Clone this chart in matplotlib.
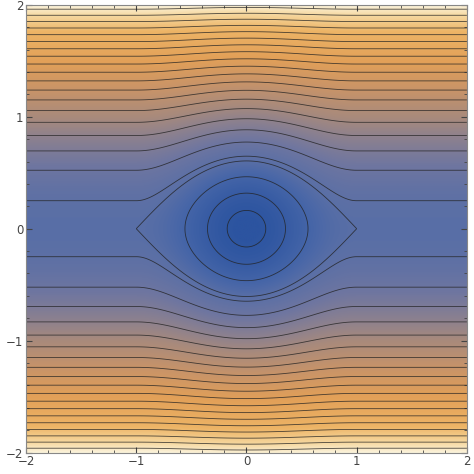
import numpy as np
import matplotlib
matplotlib.use("Agg")
import matplotlib.pyplot as plt
from matplotlib.colors import LinearSegmentedColormap
from matplotlib.ticker import MultipleLocator

well_depth = 0.44
inner_radii = [0.18, 0.35, 0.51]
outer_levels = [0.0] + [round(0.0625 + 0.21 * k, 4) for k in range(0, 19)]
xticks = [-2, -1, 0, 1, 2]
yticks = [-2, -1, 0, 1, 2]
color_pos = [0.0, 0.06, 0.1, 0.17, 0.24, 0.32, 0.45, 0.6, 0.8, 0.92, 1.0]
color_stops = ["#2c54a0", "#4565a8", "#5a6fa6", "#6f76a0", "#8a8090", "#a88a7c",
               "#c99468", "#e2a058", "#edb466", "#f6d8a0", "#fbf3dc"]

x = np.linspace(-2, 2, 800)
y = np.linspace(-2, 2, 800)
X, Y = np.meshgrid(x, y)
V = np.where(np.abs(X) < 1, -well_depth * (1 + np.cos(np.pi * X)) / 2, 0.0)
H = Y**2 + V * np.exp(-Y**2 / 2)

inner_levels = sorted(-(well_depth - np.array(inner_radii) ** 2))
levels = list(inner_levels) + outer_levels

cmap = LinearSegmentedColormap.from_list("m", list(zip(color_pos, color_stops)))
fig = plt.figure(figsize=(4.74, 4.74), dpi=100)
ax = fig.add_axes([0.055, 0.045, 0.93, 0.945])
ax.imshow(H, extent=(-2, 2, -2, 2), origin="lower", cmap=cmap, vmin=-well_depth, vmax=4.0,
          interpolation="bilinear", aspect="auto")
ax.contour(X, Y, H, levels=levels, colors="#222222", linewidths=0.6, alpha=0.8, linestyles="solid")
ax.set_xlim(-2, 2); ax.set_ylim(-2, 2)
ax.set_xticks(xticks); ax.set_yticks(yticks)
ax.xaxis.set_minor_locator(MultipleLocator(0.2))
ax.yaxis.set_minor_locator(MultipleLocator(0.2))
ax.tick_params(which="both", direction="in", top=True, right=True, colors="#444444")
ax.tick_params(which="major", labelsize=8.5, length=4, pad=2)
ax.tick_params(which="minor", length=2)
for s in ax.spines.values():
    s.set_color("#888888")
fig.savefig("out.png", dpi=100)
